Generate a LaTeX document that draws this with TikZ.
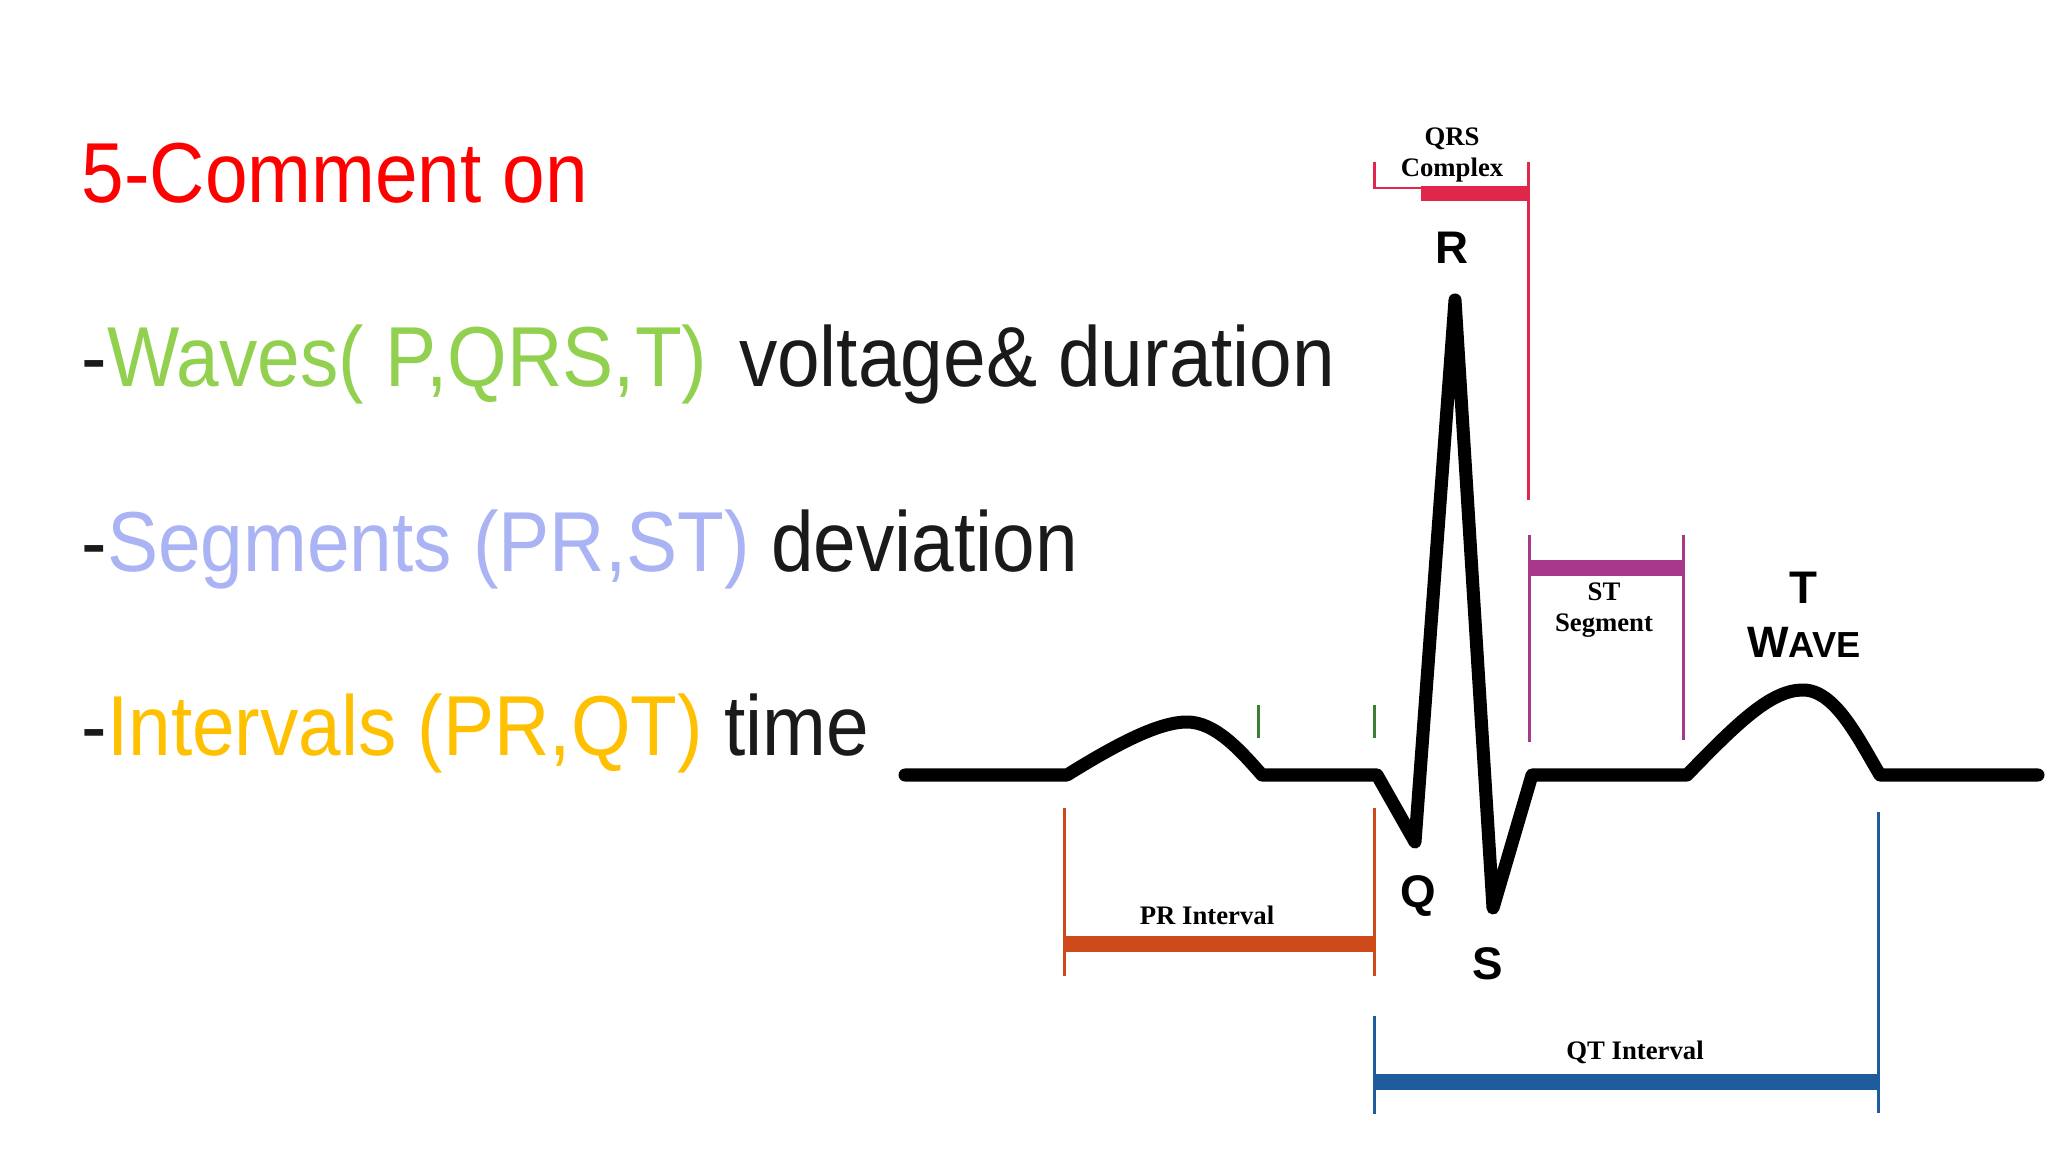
\documentclass[tikz,border=0pt]{standalone}
\usepackage{fontspec}
\setmainfont{Liberation Sans}
\newfontfamily\slidefont[FakeStretch=0.9]{Liberation Sans}
\newfontfamily\tagfont{Liberation Serif}

\definecolor{titlered}{HTML}{FF0000}
\definecolor{wavegreen}{HTML}{92D050}
\definecolor{seglav}{HTML}{AAB3F3}
\definecolor{intamber}{HTML}{FFC000}
\definecolor{inktext}{HTML}{1A1A1A}
\definecolor{qrsred}{HTML}{E0264B}
\definecolor{stpurple}{HTML}{A8398A}
\definecolor{prorange}{HTML}{CF4A1B}
\definecolor{qtblue}{HTML}{1F5C9E}
\definecolor{tickgreen}{HTML}{3B7F35}

\begin{document}
\begin{tikzpicture}[
  x=0.01cm, y=-0.01cm,
  bullet/.style={font=\slidefont\fontsize{24.2pt}{29pt}\selectfont, text=inktext,
                 anchor=base west, inner sep=0pt},
  peak/.style={font=\bfseries\fontsize{13pt}{15pt}\selectfont, inner sep=0pt},
  tag/.style={font=\tagfont\bfseries\fontsize{7.6pt}{8.8pt}\selectfont,
              align=center, inner sep=0pt},
  trace/.style={line width=3.7pt, line cap=round, line join=round},
  mark line/.style={line width=0.85pt},
  bar/.style={line width=4.3pt},
]
  \useasboundingbox[fill=white] (0,0) rectangle (2048,1152);

  % Title and bullets
  \node[bullet, text=titlered] (title) at (81,203) {5-Comment on};
  \node[bullet] (waves)     at (81,387) {-\textcolor{wavegreen}{Waves( P,QRS,T)}\kern3pt{} voltage\& duration};
  \node[bullet] (segments)  at (81,571) {-\textcolor{seglav}{Segments (PR,ST)} deviation};
  \node[bullet] (intervals) at (81,755) {-\textcolor{intamber}{Intervals (PR,QT)} time};

  % ECG trace
  \draw[trace] (905,775) -- (1067,775)
    .. controls (1120,742) and (1160,722) .. (1187,722)
    .. controls (1215,722) and (1240,750) .. (1262,775)
    -- (1377,775) -- (1415,842) -- (1455,300) -- (1493,908) -- (1532,775)
    -- (1687,775)
    .. controls (1740,720) and (1772,690) .. (1803,690)
    .. controls (1835,690) and (1858,738) .. (1880,775)
    -- (2038,775);

  % Wave letters
  \node[peak] (r) at (1452,248) {R};
  \node[peak] (q) at (1418,896) {Q};
  \node[peak] (s) at (1488,964) {S};
  \node[peak] (t) at (1803,588) {T};
  \node[font=\bfseries, inner sep=0pt, anchor=base] (wave) at (1804,657)
    {\fontsize{12.5pt}{14pt}\selectfont W\fontsize{10.3pt}{12pt}\selectfont AVE};

  % PR-segment ticks
  \draw[tickgreen, mark line] (1258,705) -- (1258,738);
  \draw[tickgreen, mark line] (1374,705) -- (1374,738);

  % QRS complex
  \draw[qrsred, mark line] (1374,162) -- (1374,188) -- (1421,188);
  \draw[qrsred, mark line] (1528,162) -- (1528,500);
  \fill[qrsred] (1421,186) rectangle (1528,201);
  \node[tag] (qrslabel) at (1452,155) {QRS\\Complex};

  % ST segment
  \draw[stpurple, mark line] (1529,535) -- (1529,742);
  \draw[stpurple, mark line] (1683,535) -- (1683,740);
  \draw[stpurple, bar] (1529,568) -- (1683,568);
  \node[tag] (stlabel) at (1604,610) {ST\\Segment};

  % PR interval
  \draw[prorange, mark line] (1064,808) -- (1064,976);
  \draw[prorange, mark line] (1374,808) -- (1374,976);
  \draw[prorange, bar] (1064,944) -- (1374,944);
  \node[tag] (prlabel) at (1207,915) {PR Interval};

  % QT interval
  \draw[qtblue, mark line] (1374,1016) -- (1374,1114);
  \draw[qtblue, mark line] (1878,812) -- (1878,1113);
  \draw[qtblue, bar] (1374,1082) -- (1878,1082);
  \node[tag] (qtlabel) at (1635,1052) {QT Interval};

\end{tikzpicture}
\end{document}
